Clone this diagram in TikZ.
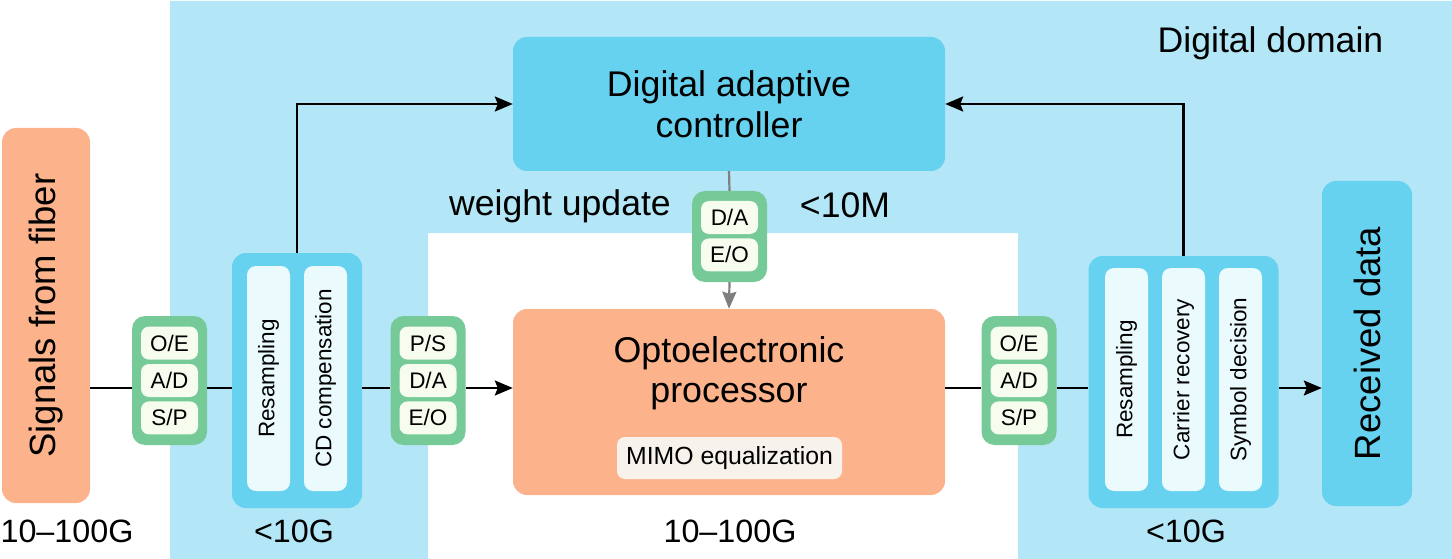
\documentclass[tikz,border=0pt]{standalone}
\usepackage{graphicx}
\usepackage{fontspec}
\setmainfont{Liberation Sans}
\usepackage{xcolor}
\usepackage{tikz}
\usetikzlibrary{positioning, calc, arrows.meta}

\definecolor{domainblue}{HTML}{B3E6F7}
\definecolor{blockblue}{HTML}{66D2EF}
\definecolor{stagefill}{HTML}{EBFAFD}
\definecolor{optoorange}{HTML}{FCB38C}
\definecolor{convgreen}{HTML}{75CA98}
\definecolor{cellfill}{HTML}{F6FCEE}
\definecolor{mimofill}{HTML}{F8F2EC}
\definecolor{ctlgray}{HTML}{7F7F7F}

\newcommand{\fsz}[2]{\fontsize{#1}{#2}\selectfont}
\newcommand{\vtxt}[1]{\rotatebox{90}{#1}}

\begin{document}
\begin{tikzpicture}[
    x=1pt, y=-1pt,
    >={Stealth[length=18pt, width=15pt, inset=3pt]},
    blk/.style={rounded corners=14pt, align=center, inner sep=0pt},
    ctrlbox/.style={blk, fill=blockblue, minimum width=432pt, minimum height=134pt, font=\fsz{35.7}{41}},
    opto/.style={blk, fill=optoorange, minimum width=432pt, minimum height=186pt},
    endbox/.style={blk, minimum width=88pt, minimum height=375pt, font=\fsz{36.5}{42}},
    dsp/.style={blk, fill=blockblue, minimum width=130pt, minimum height=255pt},
    stage/.style={blk, rounded corners=9pt, fill=stagefill, minimum width=43pt, minimum height=225pt, font=\fsz{22.5}{26}},
    conv/.style={blk, rounded corners=13pt, fill=convgreen, minimum width=75pt},
    cell/.style={blk, rounded corners=8pt, fill=cellfill, minimum width=57pt, minimum height=33pt, font=\fsz{22.5}{26}},
    wire/.style={line width=2.2pt},
    flow/.style={->, line width=2.2pt},
    ctlwire/.style={line width=2.2pt, draw=ctlgray},
    ctlflow/.style={ctlwire, -{Stealth[length=17pt, width=14pt, inset=2pt]}},
    rate/.style={font=\fsz{32.3}{37}, inner sep=0pt},
    note/.style={font=\fsz{35.6}{40}, inner sep=0pt, anchor=base},
]
\useasboundingbox (0,0) rectangle (1452,559);

% digital domain
\fill[domainblue] (170,1) -- (1452,1) -- (1452,559) -- (1018,559) -- (1018,233)
    -- (428,233) -- (428,559) -- (170,559) -- cycle;
\node[note] at (1270.5,53) (domlbl) {Digital domain};

% main blocks
\node[ctrlbox] at (729,104) (ctrl) {Digital adaptive\\controller};
\node[opto]    at (729,402) (opto) {};
\node[font=\fsz{35.8}{40}, align=center, inner sep=0pt] at (729,373) (optolbl) {Optoelectronic\\processor};
\node[blk, rounded corners=8pt, fill=mimofill, minimum width=225pt, minimum height=42pt, font=\fsz{24.8}{29}]
    at (729.5,458) (mimo) {MIMO equalization};

\node[endbox, fill=optoorange] at (46,315.5) (sig) {\vtxt{Signals from fiber}};
\node[endbox, fill=blockblue, minimum width=90pt, minimum height=325pt] at (1367,343.5) (rx) {\vtxt{Received data}};

% converters
\node[conv, minimum height=129pt] at (169.5,380.5) (cv1) {};
\node[cell] at (cv1.center) (ad1) {A/D};
\node[cell, above=4pt of ad1] (oe1) {O/E};
\node[cell, below=4pt of ad1] (sp1) {S/P};

\node[conv, minimum height=129pt] at (428,380.5) (cv2) {};
\node[cell] at (cv2.center) (da2) {D/A};
\node[cell, above=4pt of da2] (ps2) {P/S};
\node[cell, below=4pt of da2] (eo2) {E/O};

\node[conv, minimum height=129pt] at (1019,380.5) (cv3) {};
\node[cell] at (cv3.center) (ad3) {A/D};
\node[cell, above=4pt of ad3] (oe3) {O/E};
\node[cell, below=4pt of ad3] (sp3) {S/P};

\node[conv, minimum height=91pt] at (729.5,236.5) (cv4) {};
\node[cell] at ([yshift=19pt]cv4.center) (da4) {D/A};
\node[cell, below=4pt of da4] (eo4) {E/O};

% DSP stages
\node[dsp] at (297,380.5) (dsp1) {};
\node[stage] at ([xshift=-28.5pt, yshift=2pt]dsp1.center) (rs1) {\vtxt{Resampling}};
\node[stage] at ([xshift=28.5pt, yshift=2pt]dsp1.center)  (cd1) {\vtxt{CD compensation}};

\node[dsp, minimum width=190pt, minimum height=252pt] at (1183.5,382) (dsp2) {};
\node[stage, minimum height=223pt] at ([xshift=-57pt, yshift=2.5pt]dsp2.center) (rs2) {\vtxt{Resampling}};
\node[stage, minimum height=223pt] at ([yshift=2.5pt]dsp2.center)               (cr2) {\vtxt{Carrier recovery}};
\node[stage, minimum height=223pt] at ([xshift=57pt, yshift=2.5pt]dsp2.center)  (sd2) {\vtxt{Symbol decision}};

% rates
\node[rate] at (67,531)   (r1) {10--100G};
\node[rate] at (294,531)  (r2) {<10G};
\node[rate] at (730,531)  (r3) {10--100G};
\node[rate] at (1186,531) (r4) {<10G};
\node[note] at (560,215)  (wu) {weight update};
\node[note] at (845,217)  (wr) {<10M};

% signal path
\coordinate (lvl) at (0,388);
\foreach \a/\b/\s in {sig/cv1/wire, cv1/dsp1/wire, dsp1/cv2/wire, cv2/opto/flow,
                      opto/cv3/wire, cv3/dsp2/wire, dsp2/rx/flow}
    \draw[\s] (\a.east |- lvl) -- (\b.west |- lvl);

% feedback and weight update
\draw[flow] (dsp1.north) |- (ctrl.west);
\draw[flow] (dsp2.north) |- (ctrl.east);
\draw[ctlwire] (ctrl.south) -- (cv4.north);
\draw[ctlflow] (cv4.south) -- (opto.north);

\end{tikzpicture}
\end{document}
